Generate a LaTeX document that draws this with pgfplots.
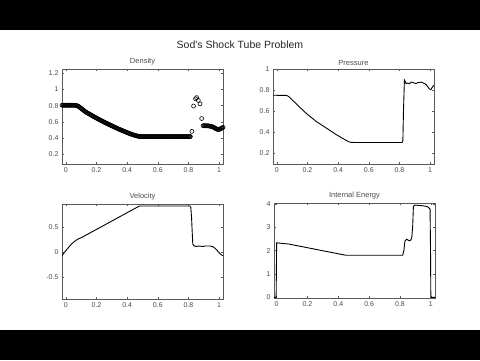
\documentclass[border=0pt]{standalone}
\usepackage{fontspec}
\setmainfont{Liberation Sans}
\usepackage{pgfplots}
\pgfplotsset{compat=1.18}
\pgfplotsset{
  sodax/.style={
    scale only axis, width=161pt, height=95pt, anchor=south west,
    axis line style={black!65, line width=0.4pt},
    tick style={black!65, line width=0.4pt},
    tick align=inside, major tick length=2.2pt,
    ticklabel style={font=\fontsize{7}{8}\selectfont, text=black!70},
    /pgf/number format/assume math mode=true,
    title style={font=\fontsize{7.5}{9}\selectfont, text=black!70, yshift=-6pt},
    xmin=-0.025, xmax=1.025, xtick={0,0.2,0.4,0.6,0.8,1},
  },
  dens/.style={only marks, mark=o, mark size=2pt, black, mark options={line width=0.6pt}},
}
\begin{document}
\begin{tikzpicture}
\fill[white] (0pt,0pt) rectangle (480pt,360pt);
\fill[black] (0pt,330pt) rectangle (480pt,360pt);
\fill[black] (0pt,0pt) rectangle (480pt,30pt);
\node[text=black!85] at (240pt,315pt) {\fontsize{10.5}{12}\selectfont Sod\textquotesingle s Shock Tube Problem};

% Density
\begin{axis}[sodax, at={(62pt,196pt)}, title={Density},
  ymin=0.075, ymax=1.255, ytick={0.2,0.4,0.6,0.8,1,1.2}]
\addplot[dens] coordinates {
(-0.025,0.805)(-0.015,0.805)(-0.005,0.805)(0.005,0.805)(0.015,0.805)(0.025,0.805)(0.035,0.805)(0.045,0.805)(0.055,0.805)(0.065,0.803)
(0.075,0.798)(0.085,0.788)(0.095,0.773)(0.105,0.758)(0.115,0.743)(0.125,0.728)(0.135,0.715)(0.145,0.705)(0.155,0.694)
(0.165,0.683)(0.175,0.672)(0.185,0.661)(0.195,0.650)(0.205,0.640)(0.215,0.630)(0.225,0.620)(0.235,0.610)(0.245,0.600)
(0.255,0.590)(0.265,0.581)(0.275,0.572)(0.285,0.563)(0.295,0.554)(0.305,0.545)(0.315,0.536)(0.325,0.527)(0.335,0.518)
(0.345,0.509)(0.355,0.501)(0.365,0.493)(0.375,0.485)(0.385,0.477)(0.395,0.469)(0.405,0.461)(0.415,0.454)(0.425,0.447)
(0.435,0.440)(0.445,0.434)(0.455,0.428)(0.465,0.423)(0.475,0.419)(0.485,0.416)(0.495,0.415)(0.505,0.415)(0.515,0.415)
(0.525,0.415)(0.535,0.415)(0.545,0.415)(0.555,0.415)(0.565,0.415)(0.575,0.415)(0.585,0.415)(0.595,0.415)(0.605,0.415)
(0.615,0.415)(0.625,0.415)(0.635,0.415)(0.645,0.415)(0.655,0.415)(0.665,0.415)(0.675,0.415)(0.685,0.415)(0.695,0.415)
(0.705,0.415)(0.715,0.415)(0.725,0.415)(0.735,0.415)(0.745,0.415)(0.755,0.415)(0.765,0.415)(0.775,0.415)(0.785,0.415)
(0.795,0.415)(0.805,0.415)(0.812,0.416)
(0.822,0.48)(0.833,0.795)(0.846,0.885)(0.853,0.900)(0.864,0.865)(0.875,0.822)(0.886,0.64)
(0.895,0.550)(0.905,0.552)(0.915,0.548)(0.925,0.550)(0.935,0.547)(0.945,0.543)(0.955,0.538)(0.965,0.530)(0.975,0.518)
(0.985,0.508)(0.995,0.503)(1.005,0.508)(1.015,0.520)(1.025,0.530)
};
\addplot[dens] coordinates {
(-0.02,0.805)(-0.01,0.805)(0.00,0.805)(0.01,0.805)(0.02,0.805)(0.03,0.805)(0.04,0.805)(0.05,0.805)(0.06,0.804)
(0.07,0.800)(0.08,0.793)(0.09,0.780)(0.10,0.765)(0.11,0.750)(0.12,0.735)(0.13,0.721)(0.14,0.710)(0.15,0.699)
(0.16,0.688)(0.17,0.677)(0.18,0.666)(0.19,0.655)(0.20,0.645)(0.21,0.635)(0.22,0.625)(0.23,0.615)(0.24,0.605)
(0.25,0.595)(0.26,0.585)(0.27,0.576)(0.28,0.567)(0.29,0.558)(0.30,0.549)(0.31,0.540)(0.32,0.531)(0.33,0.522)
(0.34,0.513)(0.35,0.505)(0.36,0.497)(0.37,0.489)(0.38,0.481)(0.39,0.473)(0.40,0.465)(0.41,0.457)(0.42,0.450)
(0.43,0.443)(0.44,0.437)(0.45,0.431)(0.46,0.425)(0.47,0.421)(0.48,0.417)(0.49,0.415)(0.50,0.415)(0.51,0.415)
(0.52,0.415)(0.53,0.415)(0.54,0.415)(0.55,0.415)(0.56,0.415)(0.57,0.415)(0.58,0.415)(0.59,0.415)(0.60,0.415)
(0.61,0.415)(0.62,0.415)(0.63,0.415)(0.64,0.415)(0.65,0.415)(0.66,0.415)(0.67,0.415)(0.68,0.415)(0.69,0.415)
(0.70,0.415)(0.71,0.415)(0.72,0.415)(0.73,0.415)(0.74,0.415)(0.75,0.415)(0.76,0.415)(0.77,0.415)(0.78,0.415)
(0.79,0.415)(0.80,0.415)(0.81,0.415)
(0.90,0.551)(0.91,0.550)(0.92,0.549)(0.93,0.548)(0.94,0.545)(0.95,0.540)(0.96,0.534)(0.97,0.524)(0.98,0.513)
(0.99,0.505)(1.00,0.505)(1.01,0.514)(1.02,0.525)
};
\end{axis}

% Pressure
\begin{axis}[sodax, at={(273pt,196pt)}, title={Pressure},
  ymin=0.095, ymax=1.0, ytick={0.2,0.4,0.6,0.8,1}]
\addplot[black, line width=0.9pt] coordinates {
(-0.025,0.750)(0.06,0.748)(0.07,0.744)(0.08,0.735)(0.09,0.720)(0.10,0.705)(0.126,0.670)(0.15,0.635)(0.19,0.580)
(0.257,0.500)(0.32,0.440)(0.387,0.375)(0.44,0.330)(0.465,0.310)(0.48,0.302)(0.50,0.300)(0.817,0.300)(0.822,0.320)
(0.826,0.600)(0.832,0.895)(0.838,0.880)(0.843,0.860)(0.853,0.866)(0.865,0.860)(0.876,0.875)(0.887,0.872)(0.898,0.865)
(0.908,0.862)(0.92,0.870)(0.93,0.872)(0.945,0.875)(0.955,0.866)(0.965,0.860)(0.974,0.850)(0.985,0.830)(0.995,0.810)
(1.005,0.803)(1.015,0.830)(1.025,0.845)
};
\end{axis}

% Velocity
\begin{axis}[sodax, at={(62pt,61pt)}, title={Velocity},
  ymin=-0.93, ymax=0.97, ytick={-0.5,0,0.5}]
\addplot[black, line width=0.9pt] coordinates {
(-0.025,-0.060)(-0.01,0.000)(0.004,0.050)(0.02,0.110)(0.037,0.170)(0.06,0.230)(0.08,0.270)(0.10,0.295)(0.48,0.930)
(0.81,0.930)(0.815,0.900)(0.82,0.700)(0.825,0.350)(0.828,0.170)(0.835,0.135)(0.85,0.120)(0.87,0.130)(0.88,0.125)
(0.89,0.120)(0.91,0.130)(0.94,0.130)(0.96,0.115)(0.975,0.080)(0.99,0.030)(1.005,-0.020)(1.015,-0.050)(1.025,-0.060)
};
\end{axis}

% Internal Energy
\begin{axis}[sodax, at={(274pt,62pt)}, title={Internal Energy},
  xmin=-0.017, xmax=1.027,
  ymin=-0.03, ymax=4.04, ytick={0,1,2,3,4}]
\addplot[black, line width=0.9pt] coordinates {
(-0.017,0)(-0.003,0)(0.0,2.33)(0.005,2.33)(0.08,2.28)(0.45,1.80)(0.817,1.80)(0.825,2.00)(0.832,2.41)(0.843,2.49)
(0.85,2.46)(0.86,2.42)(0.87,2.45)(0.876,2.55)(0.882,3.00)(0.887,3.90)(0.898,3.95)(0.95,3.92)(0.975,3.89)(0.985,3.85)
(0.995,3.78)(0.998,2.00)(1.0,0)(1.027,0)
};
\end{axis}
\end{tikzpicture}
\end{document}
